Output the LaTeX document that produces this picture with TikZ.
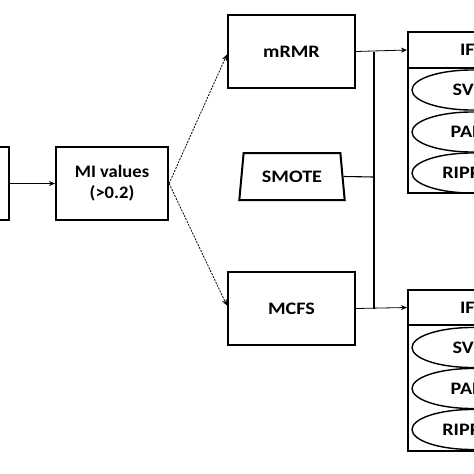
\documentclass[tikz,border=0pt]{standalone}
\usepackage{fontspec}
\setmainfont{Carlito}
\usetikzlibrary{shapes.geometric,arrows.meta}
\newcommand{\hstretch}[2][1.15]{\scalebox{#1}[1]{#2}}
\begin{document}
\begin{tikzpicture}[x=1pt,y=-1pt,
  lbl/.style={font=\fontsize{17.5}{22}\selectfont\bfseries},
  box/.style={draw,line width=2.2pt,rectangle,minimum width=127pt,minimum height=73pt,inner sep=0pt,lbl,align=center},
  hdr/.style={draw,line width=2pt,rectangle,minimum width=128pt,inner sep=0pt,lbl},
  ell/.style={draw,line width=1.4pt,ellipse,minimum width=120pt,minimum height=40pt,inner sep=0pt,lbl},
  conn/.style={line width=0.8pt},
  arr/.style={conn,-{Stealth[length=6pt,width=5pt]}},
  darr/.style={arr,dash pattern=on 2pt off 1.2pt}]
\useasboundingbox (0,0) rectangle (474,474);
\clip (0,0) rectangle (474,474);
\fill[white] (0,0) rectangle (474,474);
% boxes
\node[box,minimum width=58pt] (left) at (-20,183.5) {};
\node[box,minimum width=112pt] (mi) at (112,183.5) {\hstretch[1.06]{MI values}\\[-1pt]\hstretch[1.06]{(>0.2)}};
\node[box] (mrmr) at (291.5,51.5) {\hstretch{mRMR}};
\node[box] (mcfs) at (291.5,308.5) {\hstretch{MCFS}};
\node[draw,line width=2pt,trapezium,trapezium stretches=true,trapezium left angle=77,trapezium right angle=77,minimum width=106pt,minimum height=47pt,inner sep=0pt,lbl] (smote) at (292,176.5) {\hstretch{SMOTE}};
% upper classifier group
\draw[line width=2pt] (408,32) rectangle (536,193);
\node[hdr,minimum height=36pt] (ifa) at (472,50) {\hstretch{IFS}};
\node[ell] (svma) at (472,90) {\hstretch{SVM}};
\node[ell] (parta) at (472,132) {\hstretch{PART}};
\node[ell] (ripa) at (472,173) {\hstretch{RIPPER}};
% lower classifier group
\draw[line width=2pt] (408,290) rectangle (536,451);
\node[hdr,minimum height=35pt] (ifb) at (472,307.5) {\hstretch{IFS}};
\node[ell] (svmb) at (472,347.5) {\hstretch{SVM}};
\node[ell] (partb) at (472,388.5) {\hstretch{PART}};
\node[ell] (ripb) at (472,429.5) {\hstretch{RIPPER}};
% connectors
\coordinate (j1) at (374,51.5);
\coordinate (j2) at (374,308.5);
\coordinate (j3) at (374,177);
\draw[arr] (left.east) -- (mi.west);
\draw[darr] (mi.east) -- ([yshift=-3pt]mrmr.west);
\draw[darr] (mi.east) -- ([yshift=3pt]mcfs.west);
\draw[arr] (mrmr.east) -- (ifa.west);
\draw[arr] (mcfs.east) -- (ifb.west);
\draw[conn,line width=1.1pt] (j1) -- (j2);
\draw[conn,line width=1.1pt] (smote.east) -- (j3);
\end{tikzpicture}
\end{document}
